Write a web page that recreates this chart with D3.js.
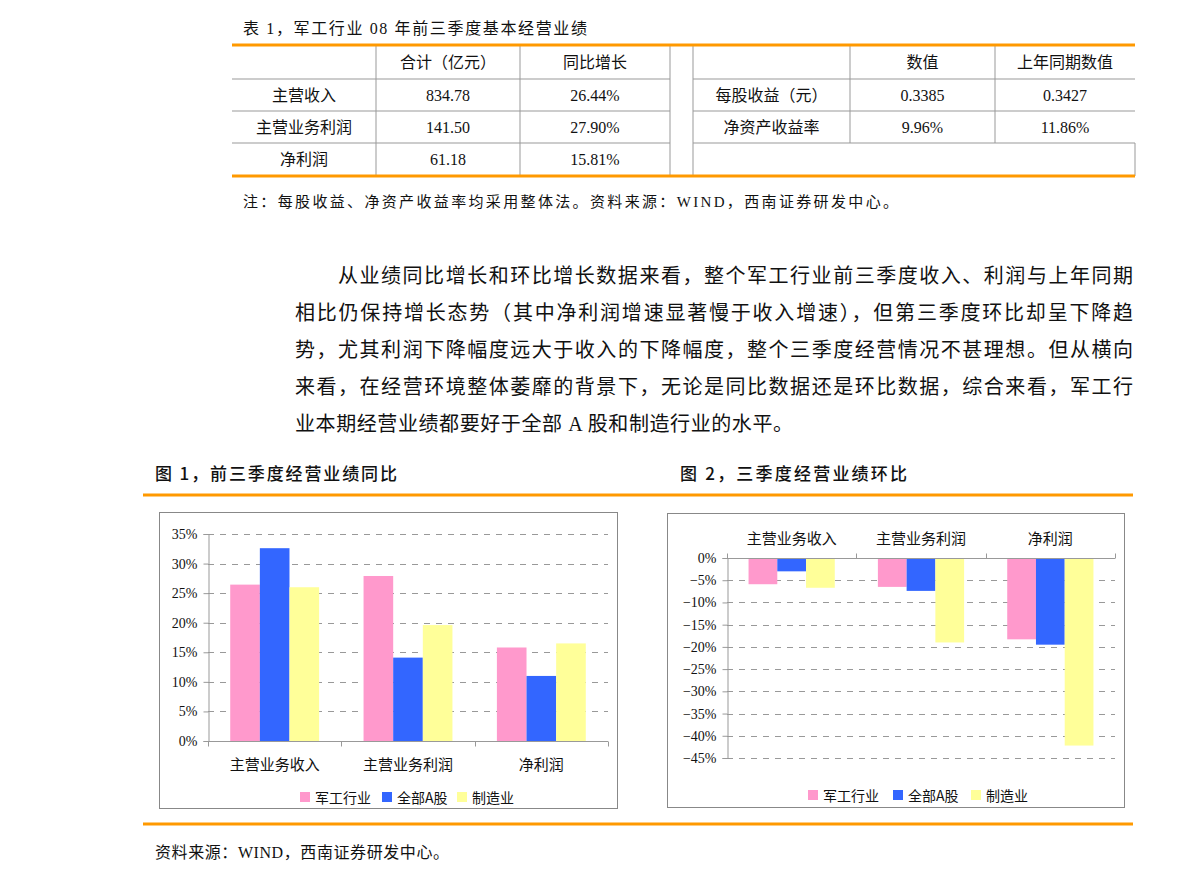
<!DOCTYPE html>
<html>
<head>
<meta charset="utf-8">
<script src="https://cdn.jsdelivr.net/npm/d3@7"></script>
<style>
  body { margin: 0; background: #fff; }
  svg text { font-family: "Liberation Serif", "Noto Sans CJK SC", serif; fill: #111; }
  .sans { font-family: "Noto Sans CJK SC", sans-serif !important; }
</style>
</head>
<body>
<div id="viz"></div>
<script>
// ---- data ----
var categories  = ["主营业务收入", "主营业务利润", "净利润"];
var seriesNames = ["军工行业", "全部A股", "制造业"];

// figure 1: year on year growth (%)
var yoyJungong = [26.44, 27.90, 15.81];
var yoyAllA    = [32.6, 14.1, 11.0];
var yoyMfg     = [26.0, 19.6, 16.5];
var yoyTicks   = [0, 5, 10, 15, 20, 25, 30, 35];

// figure 2: quarter on quarter growth (%)
var qoqJungong = [-5.9, -6.5, -18.3];
var qoqAllA    = [-3.0, -7.4, -19.5];
var qoqMfg     = [-6.7, -19.0, -42.2];
var qoqTicks   = [0, -5, -10, -15, -20, -25, -30, -35, -40, -45];

// table 1
var tableTitle     = "表 1，军工行业 08 年前三季度基本经营业绩";
var tableLeftHead  = ["", "合计（亿元）", "同比增长"];
var tableLeftRows  = [["主营收入", "834.78", "26.44%"],
                      ["主营业务利润", "141.50", "27.90%"],
                      ["净利润", "61.18", "15.81%"]];
var tableRightHead = ["", "数值", "上年同期数值"];
var tableRightRows = [["每股收益（元）", "0.3385", "0.3427"],
                      ["净资产收益率", "9.96%", "11.86%"]];
var tableNote = "注：每股收益、净资产收益率均采用整体法。资料来源：WIND，西南证券研发中心。";

var paraLines = [
  "从业绩同比增长和环比增长数据来看，整个军工行业前三季度收入、利润与上年同期",
  "相比仍保持增长态势（其中净利润增速显著慢于收入增速），但第三季度环比却呈下降趋",
  "势，尤其利润下降幅度远大于收入的下降幅度，整个三季度经营情况不甚理想。但从横向",
  "来看，在经营环境整体萎靡的背景下，无论是同比数据还是环比数据，综合来看，军工行",
  "业本期经营业绩都要好于全部 A 股和制造行业的水平。"
];

var fig1Title = "图 1，前三季度经营业绩同比";
var fig2Title = "图 2，三季度经营业绩环比";
var sourceText = "资料来源：WIND，西南证券研发中心。";

// ---- styles ----
var colors = ["#FF99CC", "#3366FF", "#FFFF99"];
var orange = "#FF9900";
var gray = "#999999";

var width = 1191, height = 879;

var svg = d3.select("#viz").append("svg")
  .attr("width", width)
  .attr("height", height);

svg.append("rect").attr("width", width).attr("height", height).attr("fill", "#fff");

// helper: text stretched to a given width (reference font is wider)
function fitText(x, y, x2, size, str)
{
  return svg.append("text").attr("x", x).attr("y", y).attr("font-size", size)
    .attr("textLength", x2 - x).attr("lengthAdjust", "spacing").text(str);
}

// ---------- table ----------
fitText(243, 34, 587, 16, tableTitle);

var rowY = [45, 79, 111, 143, 176];
var leftCols = [232, 376, 520, 670];
var rightCols = [693, 850, 995, 1135];

// horizontal gray lines
[79, 111, 143].forEach(function(y) {
  svg.append("line").attr("x1", 232).attr("x2", 670).attr("y1", y).attr("y2", y).attr("stroke", gray);
  svg.append("line").attr("x1", 693).attr("x2", 1135).attr("y1", y).attr("y2", y).attr("stroke", gray);
});
// vertical lines
[376, 520, 670, 693].forEach(function(x) {
  svg.append("line").attr("x1", x).attr("x2", x).attr("y1", 45).attr("y2", 176).attr("stroke", gray);
});
[850, 995].forEach(function(x) {
  svg.append("line").attr("x1", x).attr("x2", x).attr("y1", 45).attr("y2", 143).attr("stroke", gray);
});
svg.append("line").attr("x1", 1135).attr("x2", 1135).attr("y1", 143).attr("y2", 176).attr("stroke", gray);

// orange rules
[45, 176].forEach(function(y) {
  svg.append("line").attr("x1", 232).attr("x2", 1135).attr("y1", y).attr("y2", y)
     .attr("stroke", orange).attr("stroke-width", 3);
});

function tableCells(head, rows, cols)
{
  var all = [head].concat(rows);
  all.forEach(function(r, i) {
    r.forEach(function(t, j) {
      svg.append("text")
         .attr("x", (cols[j] + cols[j + 1]) / 2)
         .attr("y", (rowY[i] + rowY[i + 1]) / 2)
         .attr("text-anchor", "middle")
         .attr("dominant-baseline", "central")
         .attr("font-size", 16)
         .text(t);
    });
  });
}
tableCells(tableLeftHead, tableLeftRows, leftCols);
tableCells(tableRightHead, tableRightRows, rightCols);

fitText(243, 207, 898, 15, tableNote);

// ---------- paragraph ----------
paraLines.forEach(function(line, i) {
  var x = i == 0 ? 338 : 295;
  var x2 = i < paraLines.length - 1 ? 1133 : 793;
  fitText(x, 283 + i * 37, x2, 20, line);
});

// ---------- figure headings ----------
fitText(155, 480, 397, 17, fig1Title).attr("class", "sans").attr("font-weight", 500);
fitText(680, 480, 907, 17, fig2Title).attr("class", "sans").attr("font-weight", 500);
svg.append("line").attr("x1", 143).attr("x2", 1133).attr("y1", 495).attr("y2", 495)
   .attr("stroke", orange).attr("stroke-width", 3);

svg.append("line").attr("x1", 143).attr("x2", 1133).attr("y1", 824).attr("y2", 824)
   .attr("stroke", orange).attr("stroke-width", 3);
fitText(155, 858, 449, 16, sourceText);

// ---------- bar charts ----------
function drawChart(cfg)
{
  var g = svg.append("g");

  // frame
  g.append("rect")
   .attr("x", cfg.box[0] + 0.5).attr("y", cfg.box[1] + 0.5)
   .attr("width", cfg.box[2] - cfg.box[0]).attr("height", cfg.box[3] - cfg.box[1])
   .attr("fill", "#fff").attr("stroke", "#888");

  var x0 = d3.scaleBand().domain(categories).range([cfg.left, cfg.right]);
  var x1 = d3.scaleBand().domain(seriesNames).range([0, x0.bandwidth()]).paddingOuter(0.75);
  var y = d3.scaleLinear().domain(cfg.domain).range([cfg.bottom, cfg.top]);

  // dashed grid
  g.selectAll(".grid").data(cfg.ticks.filter(function(d) { return d != 0; }))
   .enter().append("line")
   .attr("x1", cfg.left).attr("x2", cfg.right)
   .attr("y1", function(d) { return Math.round(y(d)) + 0.5; })
   .attr("y2", function(d) { return Math.round(y(d)) + 0.5; })
   .attr("stroke", gray).attr("stroke-dasharray", "6,6");

  // bars
  var data = [];
  categories.forEach(function(c, i) {
    seriesNames.forEach(function(s, j) {
      data.push({cat: c, series: s, value: cfg.values[j][i], color: colors[j]});
    });
  });
  g.selectAll(".bar").data(data).enter().append("rect")
   .attr("class", "bar")
   .attr("x", function(d) { return x0(d.cat) + x1(d.series); })
   .attr("width", x1.bandwidth())
   .attr("y", function(d) { return y(Math.max(0, d.value)); })
   .attr("height", function(d) { return Math.abs(y(d.value) - y(0)); })
   .attr("fill", function(d) { return d.color; });

  // y axis
  var yAx = g.append("g")
   .attr("transform", "translate(" + (cfg.left + 0.5) + ",0)")
   .call(d3.axisLeft(y).tickValues(cfg.ticks).tickSize(5).tickPadding(6)
          .tickFormat(function(d) { return (d < 0 ? "−" + (-d) : d) + "%"; }));
  yAx.selectAll("path,line").attr("stroke", gray);
  yAx.selectAll("text").attr("font-size", 14).attr("fill", "#222")
     .style("font-family", "'Liberation Serif', serif");

  // category axis at zero
  var y0 = Math.round(y(0)) + 0.5;
  g.append("line").attr("x1", cfg.left).attr("x2", cfg.right).attr("y1", y0).attr("y2", y0).attr("stroke", gray);
  var bounds = categories.map(function(c) { return x0(c); }).concat([cfg.right]);
  g.selectAll(".xt").data(bounds).enter().append("line")
   .attr("x1", function(d) { return Math.round(d) + 0.5; })
   .attr("x2", function(d) { return Math.round(d) + 0.5; })
   .attr("y1", y0).attr("y2", y0 + cfg.tickDir * 5)
   .attr("stroke", gray);

  g.selectAll(".xl").data(categories).enter().append("text")
   .attr("class", "sans")
   .attr("x", function(d) { return x0(d) + x0.bandwidth() / 2; })
   .attr("y", cfg.labelY)
   .attr("text-anchor", "middle")
   .attr("dominant-baseline", "central")
   .attr("font-size", 15)
   .attr("fill", "#222")
   .text(function(d) { return d; });

  // legend
  seriesNames.forEach(function(s, j) {
    g.append("rect").attr("x", cfg.legendX[j]).attr("y", cfg.legendY - 5)
     .attr("width", 10).attr("height", 10).attr("fill", colors[j]);
    g.append("text").attr("class", "sans")
     .attr("x", cfg.legendX[j] + 15).attr("y", cfg.legendY)
     .attr("dominant-baseline", "central")
     .attr("font-size", 14).attr("fill", "#222")
     .text(s);
  });
}

drawChart({
  box: [159, 512, 617, 808],
  left: 208, right: 608, top: 534, bottom: 741,
  domain: [0, 35], ticks: yoyTicks,
  values: [yoyJungong, yoyAllA, yoyMfg],
  tickDir: 1, labelY: 763,
  legendX: [300, 382, 457], legendY: 797
});

drawChart({
  box: [667, 513, 1124, 807],
  left: 727, right: 1115, top: 558, bottom: 758,
  domain: [-45, 0], ticks: qoqTicks,
  values: [qoqJungong, qoqAllA, qoqMfg],
  tickDir: -1, labelY: 537,
  legendX: [808, 893, 971], legendY: 795
});
</script>
</body>
</html>
